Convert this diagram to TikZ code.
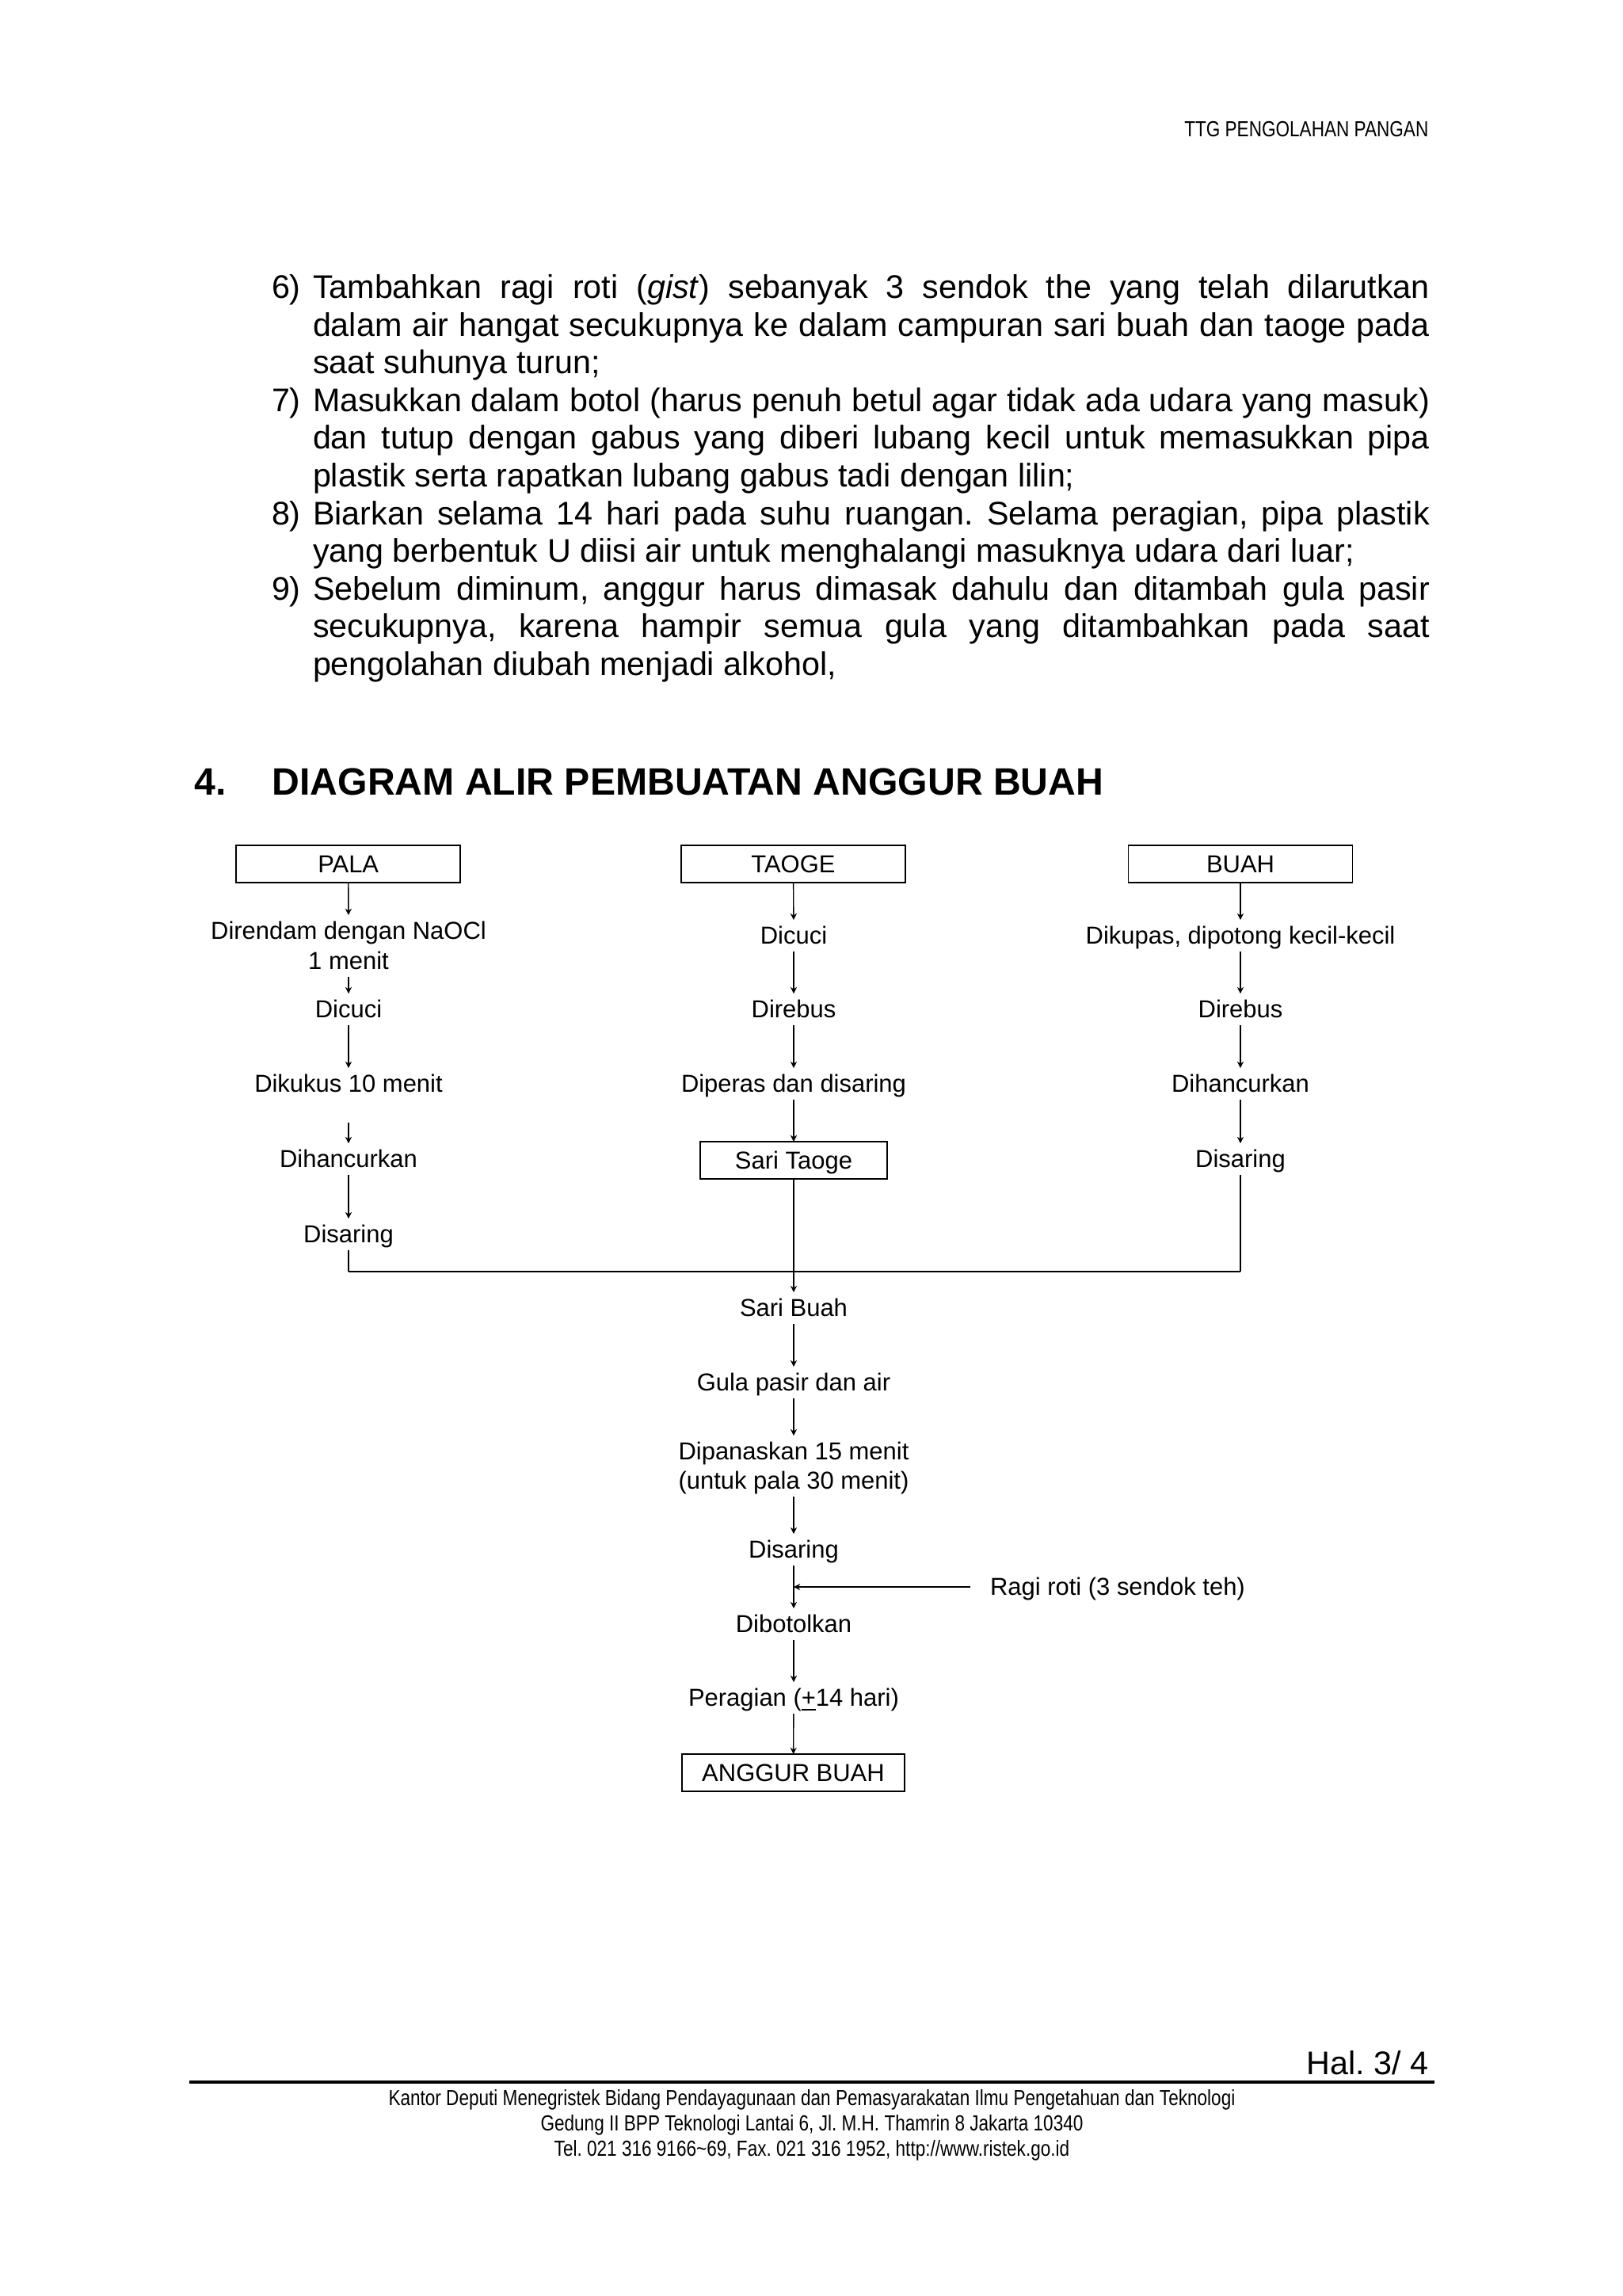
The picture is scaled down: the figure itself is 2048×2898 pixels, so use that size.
\documentclass[tikz,border=0pt]{standalone}
\usepackage{fontspec}
\setmainfont{Liberation Sans}
\newfontfamily\narrowfont[FakeStretch=0.82]{Liberation Sans}
\usetikzlibrary{arrows.meta}
\frenchspacing
\begin{document}
\begin{tikzpicture}[x=0.29067pt, y=-0.29067pt,
  txt/.style={font=\fontsize{9}{10.8}\selectfont, inner sep=0pt, outer sep=0pt, text height=8.7pt, text depth=2.9pt, anchor=base},
  box/.style={draw, line width=0.5pt, inner sep=0pt, outer sep=0pt, minimum height=13.66pt, text height=6.5pt, text depth=0pt, font=\fontsize{9}{10.8}\selectfont},
  arr/.style={line width=0.4pt, -{Stealth[length=2.4pt,width=2.4pt]}},
  ln/.style={line width=0.4pt},
  bodyl/.style={anchor=base west, inner sep=0pt, outer sep=0pt, font=\fontsize{12}{13.8}\selectfont},
  head/.style={anchor=base west, inner sep=0pt, font=\bfseries\fontsize{14}{16.8}\selectfont},
  foot/.style={anchor=base, inner sep=0pt, font=\narrowfont\fontsize{8}{9.6}\selectfont}
]
\fill[white] (0,0) rectangle (2048,2898);
\useasboundingbox (0,0) rectangle (2048,2898);

% header
\node[anchor=base east, inner sep=0pt, font=\narrowfont\fontsize{8}{9.6}\selectfont] (hdr) at (1804,172.7) {TTG PENGOLAHAN PANGAN};

% body text
\node[bodyl] (l6) at (343,376.7) {6)};
\node[bodyl] (b1) at (395,376.7) {\makebox[409.85pt][s]{Tambahkan ragi roti (\textit{gist}) sebanyak 3 sendok the yang telah dilarutkan}};
\node[bodyl] (b2) at (395,424.3) {\makebox[409.85pt][s]{dalam air hangat secukupnya ke dalam campuran sari buah dan taoge pada}};
\node[bodyl] (b3) at (395,471.8) {saat suhunya turun;};
\node[bodyl] (l7) at (343,519.4) {7)};
\node[bodyl] (b4) at (395,519.4) {\makebox[409.85pt][s]{Masukkan dalam botol (harus penuh betul agar tidak ada udara yang masuk)}};
\node[bodyl] (b5) at (395,566.9) {\makebox[409.85pt][s]{dan tutup dengan gabus yang diberi lubang kecil untuk memasukkan pipa}};
\node[bodyl] (b6) at (395,614.5) {plastik serta rapatkan lubang gabus tadi dengan lilin;};
\node[bodyl] (l8) at (343,662.0) {8)};
\node[bodyl] (b7) at (395,662.0) {\makebox[409.85pt][s]{Biarkan selama 14 hari pada suhu ruangan. Selama peragian, pipa plastik}};
\node[bodyl] (b8) at (395,709.6) {yang berbentuk U diisi air untuk menghalangi masuknya udara dari luar;};
\node[bodyl] (l9) at (343,757.1) {9)};
\node[bodyl] (b9) at (395,757.1) {\makebox[409.85pt][s]{Sebelum diminum, anggur harus dimasak dahulu dan ditambah gula pasir}};
\node[bodyl] (b10) at (395,804.7) {\makebox[409.85pt][s]{secukupnya, karena hampir semua gula yang ditambahkan pada saat}};
\node[bodyl] (b11) at (395,852.2) {pengolahan diubah menjadi alkohol,};

% heading
\node[head] (hnum) at (245,1003) {4.};
\node[head] (htitle) at (343,1003) {DIAGRAM ALIR PEMBUATAN ANGGUR BUAH};

% top boxes
\node[box, minimum width=82.26pt] (pala) at (439.7,1090.5) {PALA};
\node[box, minimum width=82.26pt] (taoge) at (1001.5,1090.5) {TAOGE};
\node[box, minimum width=82.26pt] (buah) at (1566,1090.5) {BUAH};

% PALA column
\node[txt] (p1) at (440,1185) {Direndam dengan NaOCl};
\node[txt] (p1b) at (440,1223) {1 menit};
\node[txt] (p2) at (440,1284) {Dicuci};
\node[txt] (p3) at (440,1378) {Dikukus 10 menit};
\node[txt] (p4) at (440,1473) {Dihancurkan};
\node[txt] (p5) at (440,1568) {Disaring};

% TAOGE column
\node[txt] (t1) at (1002,1191) {Dicuci};
\node[txt] (t2) at (1002,1284) {Direbus};
\node[txt] (t3) at (1002,1378) {Diperas dan disaring};
\node[box, minimum width=68.6pt] (st) at (1002,1464.5) {Sari Taoge};

% BUAH column
\node[txt] (u1) at (1566,1191) {Dikupas, dipotong kecil-kecil};
\node[txt] (u2) at (1566,1284) {Direbus};
\node[txt] (u3) at (1566,1378) {Dihancurkan};
\node[txt] (u4) at (1566,1473) {Disaring};

% merge
\coordinate (mL) at (440,1605);
\coordinate (mR) at (1566,1605);

% centre column
\node[txt] (sb) at (1002,1661) {Sari Buah};
\node[txt] (gp) at (1002,1755) {Gula pasir dan air};
\node[txt] (dp) at (1002,1842) {Dipanaskan 15 menit};
\node[txt] (dpb) at (1002,1879) {(untuk pala 30 menit)};
\node[txt] (ds) at (1002,1966) {Disaring};
\node[txt, anchor=base west] (rg) at (1250,2013) {Ragi roti (3 sendok teh)};
\node[txt] (db) at (1002,2060) {Dibotolkan};
\node[txt] (pr) at (1002,2153) {Peragian (\underline{+}14 hari)};
\node[box, minimum width=81.7pt] (ab) at (1001.5,2237.5) {ANGGUR BUAH};

% connectors
\draw[arr] (pala) -- (p1);
\draw[arr] (p1b) -- (p2);
\draw[arr] (p2) -- (p3);
\draw[arr, shorten <=8.4pt] (p3) -- (p4);
\draw[arr] (p4) -- (p5);
\draw[ln] (p5.south) -- (mL);

\draw[arr] (taoge) -- (t1);
\draw[arr] (t1) -- (t2);
\draw[arr] (t2) -- (t3);
\draw[arr] (t3) -- (st);

\draw[arr] (buah) -- (u1);
\draw[arr] (u1) -- (u2);
\draw[arr] (u2) -- (u3);
\draw[arr] (u3) -- (u4);
\draw[ln] (u4.south) -- (mR);

\draw[line width=0.6pt] (mL) -- (mR);

\draw[arr] (st) -- (sb);
\draw[arr] (sb) -- (gp);
\draw[arr] (gp) -- (dp);
\draw[arr] (dpb) -- (ds);
\draw[arr] (ds) -- (db);
\draw[arr, shorten <=7.3pt] (rg.west) -- (rg.west -| ds.south);
\draw[arr] (db) -- (pr);
\draw[arr] (pr) -- (ab);

% footer
\node[anchor=base east, inner sep=0pt, font=\fontsize{12}{14.4}\selectfont] (hal) at (1804,2618) {Hal. 3/ 4};
\coordinate (rl) at (239,2628);
\coordinate (rr) at (1811,2628);
\draw[line width=0.9pt] (rl) -- (rr);
\node[foot] (f1) at (1025,2657) {Kantor Deputi Menegristek Bidang Pendayagunaan dan Pemasyarakatan Ilmu Pengetahuan dan Teknologi};
\node[foot] (f2) at (1025,2689) {Gedung II BPP Teknologi Lantai 6, Jl. M.H. Thamrin 8 Jakarta 10340};
\node[foot] (f3) at (1025,2721) {Tel. 021 316 9166\textasciitilde69, Fax. 021 316 1952, http://www.ristek.go.id};
\end{tikzpicture}
\end{document}
